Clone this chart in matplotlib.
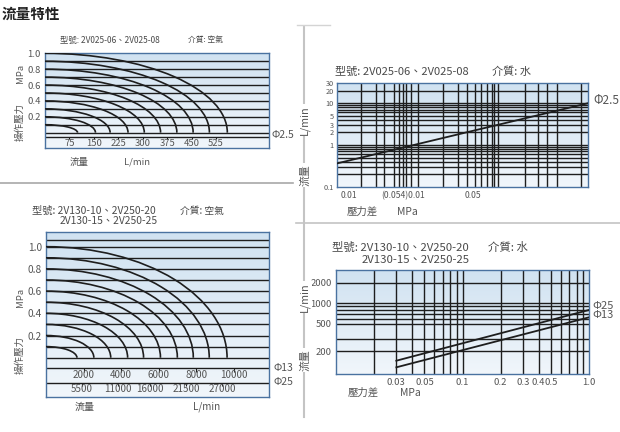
import matplotlib
matplotlib.use("Agg")
import numpy as np
import matplotlib.pyplot as plt
from matplotlib.patches import Arc
from matplotlib.lines import Line2D
from matplotlib.colors import LinearSegmentedColormap

plt.rcParams['font.family'] = ['Noto Sans CJK TC', 'DejaVu Sans']

# ---------------- data ----------------
pressures = [0.1, 0.2, 0.3, 0.4, 0.5, 0.6, 0.7, 0.8, 0.9, 1.0]

# top-left: 2V025 air, curve end flows (L/min)
air_small_flow_end = [100, 155, 200, 255, 305, 355, 405, 455, 505, 560]
air_small_xticks = [75, 150, 225, 300, 375, 450, 525]
air_yticks = [0.2, 0.4, 0.6, 0.8, 1.0]

# top-right: 2V025 water
water_small_dp = [0.0085, 0.224]
water_small_q = [0.36, 10.0]
water_small_yticks = [0.1, 1, 2, 3, 5, 10, 20, 30]
water_small_xticks = [0.01, 0.0202, 0.05]
water_small_xlabels = ['0.01', '(0.054)0.01', '0.05']
water_small_vgrid = [0.0117, 0.0142, 0.0158, 0.018, 0.0192, 0.0202, 0.021, 0.0223,
                     0.0244, 0.0338, 0.0413, 0.0464, 0.0515, 0.0555, 0.06, 0.064,
                     0.066, 0.0695, 0.099, 0.117, 0.131, 0.15, 0.204]
water_small_hgrid = [0.2, 0.3, 0.4, 0.5, 0.6, 0.7, 0.8, 0.9, 1, 2, 3, 4, 5, 6, 7, 8, 9, 10, 20]

# bottom-left: 2V130/2V250 air (flow in Phi13 L/min)
air_large_flow_end = [1650, 2550, 3450, 4350, 5200, 6100, 7000, 7850, 8700, 9650]
air_large_phi13_ticks = [2000, 4000, 6000, 8000, 10000]
air_large_phi25_labels = [5500, 11000, 16000, 21500, 27000]
phi25_to_phi13 = 2.88

# bottom-right: 2V130/2V250 water
water_large_dp = [0.03, 1.0]
water_large_q25 = [146, 800]
water_large_q13 = [117, 625]
water_large_xticks = [0.03, 0.05, 0.1, 0.2, 0.3, 0.4, 0.5, 1.0]
water_large_yticks = [200, 500, 1000, 2000]
water_large_vgrid = [0.02, 0.03, 0.04, 0.05, 0.06, 0.07, 0.08, 0.09, 0.1,
                     0.2, 0.3, 0.4, 0.5, 0.6, 0.7, 0.8, 0.9]
water_large_hgrid = [200, 300, 500, 600, 700, 800, 900, 1000, 2000]

# ---------------- style ----------------
W, H = 620, 432
GRID = '#1e1e1e'
SPINE = '#4a72a0'
TXT = '#555555'
TTL = '#4a4a4a'
FS = 6.8

fig = plt.figure(figsize=(6.2, 4.32), dpi=100)
fig.patch.set_facecolor('white')

cmap = LinearSegmentedColormap.from_list('bg', ['#d0e2f1', '#f1f6fb'])
grad = np.linspace(0, 1, 256).reshape(-1, 1)


def rect(x0, y0, x1, y1):
    return [x0 / W, 1 - y1 / H, (x1 - x0) / W, (y1 - y0) / H]


def make_ax(r):
    bg = fig.add_axes(r, zorder=0)
    bg.imshow(grad, aspect='auto', cmap=cmap, extent=[0, 1, 0, 1])
    bg.axis('off')
    ax = fig.add_axes(r, zorder=1)
    ax.patch.set_alpha(0)
    for s in ax.spines.values():
        s.set_color(SPINE)
        s.set_linewidth(1.0)
    ax.tick_params(which='both', length=0, labelsize=FS, labelcolor=TXT, pad=3)
    return ax


def ftext(x, y, s, **kw):
    kw.setdefault('color', TTL)
    kw.setdefault('fontsize', FS)
    fig.text(x / W, 1 - y / H, s, **kw)


# heading
ftext(2, 14, '流量特性', fontsize=10.5, fontweight='bold', color='#222222', va='center')

# ---------------- panel 1 ----------------
ax1 = make_ax(rect(45, 53.3, 269, 148.3))
ax1.set_xlim(0, 688)
ax1.set_ylim(-0.197, 1.0)
for y in [0.0, 0.1, 0.2, 0.3, 0.4, 0.5, 0.6, 0.7, 0.8, 0.9, -0.05]:
    ax1.axhline(y, color=GRID, lw=1.0, zorder=2)
for p, q in zip(pressures, air_small_flow_end):
    ax1.add_patch(Arc((0, 0), 2 * q, 2 * p, theta1=0, theta2=90, color=GRID, lw=1.2, zorder=3))
ax1.vlines(air_small_xticks, -0.08, -0.05, color=GRID, lw=0.8)
for t in air_small_xticks:
    ax1.text(t, -0.142, str(t), ha='center', va='center', fontsize=FS, color=TXT)
ax1.set_xticks([])
ax1.set_yticks(air_yticks, [f'{v:.1f}' for v in air_yticks])
ftext(60, 40, '型號: 2V025-06、2V025-08', va='center', fontsize=6.0)
ftext(188, 40, '介質: 空氣', va='center', fontsize=5.6)
ftext(20, 73, 'MPa', rotation=90, ha='center', va='center', color=TXT)
ftext(20, 122, '操作壓力', rotation=90, ha='center', va='center', color=TXT)
ftext(79, 162, '流量', ha='center', va='center', color=TXT)
ftext(137, 162, 'L/min', ha='center', va='center', color=TXT)
ftext(272, 135, 'Φ2.5', va='center', fontsize=7.5, color=TXT)

# ---------------- panel 2 ----------------
ax2 = make_ax(rect(336.7, 83.3, 588, 186.7))
ax2.set_xscale('log')
ax2.set_yscale('log')
ax2.set_xlim(water_small_dp[0], water_small_dp[1])
ax2.set_ylim(0.1, 30)
for v in water_small_vgrid:
    ax2.axvline(v, color=GRID, lw=1.0, zorder=2)
for v in water_small_hgrid:
    ax2.axhline(v, color=GRID, lw=1.0, zorder=2)
ax2.plot(water_small_dp, water_small_q, color=GRID, lw=1.3, zorder=3)
ax2.minorticks_off()
ax2.set_yticks(water_small_yticks, [f'{v:g}' for v in water_small_yticks])
ax2.set_xticks(water_small_xticks, water_small_xlabels)
ax2.tick_params(which='both', length=0, labelsize=6.2, labelcolor=TXT, pad=3)
ax2.tick_params(axis='y', labelsize=5.3, pad=2)
ftext(335, 72, '型號: 2V025-06、2V025-08', va='center', fontsize=8.0)
ftext(492, 72, '介質: 水', va='center', fontsize=8.0)
ftext(593, 101, 'Φ2.5', va='center', fontsize=8.5, color=TXT)
ftext(347, 212, '壓力差', va='center', fontsize=7.5, color=TXT)
ftext(397, 212, 'MPa', va='center', fontsize=7.5, color=TXT)

# ---------------- panel 3 ----------------
ax3 = make_ax(rect(46, 231.7, 269.3, 396.7))
ax3.set_xlim(0, 11900)
ax3.set_ylim(-0.351, 1.135)
for y in [1.06, 1.0, 0.9, 0.8, 0.7, 0.6, 0.5, 0.4, 0.3, 0.2, 0.1, 0.0, -0.096, -0.225]:
    ax3.axhline(y, color=GRID, lw=1.0, zorder=2)
for p, q in zip(pressures, air_large_flow_end):
    ax3.add_patch(Arc((0, 0), 2 * q, 2 * p, theta1=0, theta2=90, color=GRID, lw=1.2, zorder=3))
ax3.vlines(air_large_phi13_ticks, -0.125, -0.096, color=GRID, lw=0.8)
for t in air_large_phi13_ticks:
    ax3.text(t, -0.152, str(t), ha='center', va='center', fontsize=7.1, color=TXT)
phi25_pos = [v / phi25_to_phi13 for v in air_large_phi25_labels]
ax3.vlines(phi25_pos, -0.252, -0.225, color=GRID, lw=0.8)
for v, xp in zip(air_large_phi25_labels, phi25_pos):
    ax3.text(xp, -0.28, str(v), ha='center', va='center', fontsize=7.1, color=TXT)
ax3.set_xticks([])
ax3.set_yticks(air_yticks, [f'{v:.1f}' for v in air_yticks])
ax3.tick_params(labelsize=7.3)
ftext(32, 211, '型號: 2V130-10、2V250-20', va='center', fontsize=7.4)
ftext(180, 211, '介質: 空氣', va='center', fontsize=7.0)
ftext(60, 221, '2V130-15、2V250-25', va='center', fontsize=7.4)
ftext(20, 297, 'MPa', rotation=90, ha='center', va='center', color=TXT)
ftext(20, 355, '操作壓力', rotation=90, ha='center', va='center', color=TXT)
ftext(85, 407, '流量', ha='center', va='center', fontsize=7.2, color=TXT)
ftext(207, 407, 'L/min', ha='center', va='center', fontsize=7.2, color=TXT)
ftext(273, 368, 'Φ13', va='center', fontsize=7.5, color=TXT)
ftext(273, 382, 'Φ25', va='center', fontsize=7.5, color=TXT)

# ---------------- panel 4 ----------------
ax4 = make_ax(rect(336, 270, 589, 374))
ax4.set_xscale('log')
ax4.set_yscale('log')
ax4.set_xlim(0.01, 1.0)
ax4.set_ylim(93.5, 3055)
for v in water_large_vgrid:
    ax4.axvline(v, color=GRID, lw=1.0, zorder=2)
for v in water_large_hgrid:
    ax4.axhline(v, color=GRID, lw=1.0, zorder=2)
ax4.plot(water_large_dp, water_large_q25, color=GRID, lw=1.3, zorder=3)
ax4.plot(water_large_dp, water_large_q13, color=GRID, lw=1.3, zorder=3)
ax4.minorticks_off()
ax4.set_yticks(water_large_yticks, [str(v) for v in water_large_yticks])
ax4.set_xticks(water_large_xticks, [f'{v:g}' if v != 1.0 else '1.0' for v in water_large_xticks])
ax4.tick_params(which='both', length=0, labelsize=FS, labelcolor=TXT, pad=3)
ftext(332, 247, '型號: 2V130-10、2V250-20', va='center', fontsize=8.2)
ftext(488, 247, '介質: 水', va='center', fontsize=8.2)
ftext(362, 260, '2V130-15、2V250-25', va='center', fontsize=8.2)
ftext(592, 306, 'Φ25', va='center', fontsize=8, color=TXT)
ftext(592, 315, 'Φ13', va='center', fontsize=8, color=TXT)
ftext(348, 393, '壓力差', va='center', fontsize=7.5, color=TXT)
ftext(400, 393, 'MPa', va='center', fontsize=7.5, color=TXT)

# ---------------- separators ----------------
def fline(x0, y0, x1, y1, **kw):
    fig.add_artist(Line2D([x0 / W, x1 / W], [1 - y0 / H, 1 - y1 / H], **kw))

fline(304, 27, 304, 417, color='#c4c4c4', lw=1.5, zorder=0)
fline(297, 25, 330, 25, color='#d4d4d4', lw=1.0, zorder=0)
fline(0, 183, 293, 183, color='#a8a8a8', lw=1.2, zorder=0)
fline(296, 223, 620, 223, color='#c4c4c4', lw=1.2, zorder=0)

box = dict(facecolor='white', edgecolor='none', pad=1)
ftext(305, 120, 'L/min', rotation=90, ha='center', va='center', fontsize=7.8, color=TXT, bbox=box, zorder=5)
ftext(305, 175, '流量', rotation=90, ha='center', va='center', fontsize=7.8, color=TXT, bbox=box, zorder=5)
ftext(305, 297, 'L/min', rotation=90, ha='center', va='center', fontsize=7.8, color=TXT, bbox=box, zorder=5)
ftext(305, 360, '流量', rotation=90, ha='center', va='center', fontsize=7.8, color=TXT, bbox=box, zorder=5)

fig.savefig('out.png', dpi=100)
